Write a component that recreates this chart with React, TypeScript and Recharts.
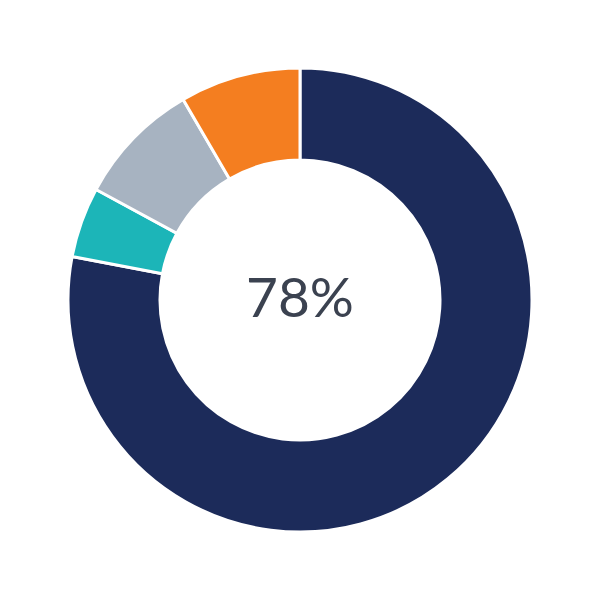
import React from "react";
import { PieChart, Pie, Cell } from "recharts";

const categories = ["Navy", "Teal", "Gray", "Orange"];
const values = [78, 4.9, 8.7, 8.4];
const colors = ["#1c2b5a", "#1cb5b8", "#a7b3c1", "#f47e20"];
const centerLabel = "78%";

const data = categories.map((name, i) => ({ name, value: values[i] }));

export default function App() {
  return (
    <div style={{ position: "absolute", left: 0, top: 0, width: 600, height: 600, background: "#fff" }}>
      <PieChart width={600} height={600} margin={{ top: 0, right: 0, bottom: 0, left: 0 }}>
        <Pie
          data={data}
          dataKey="value"
          nameKey="name"
          cx={300}
          cy={300}
          innerRadius={140}
          outerRadius={232}
          startAngle={90}
          endAngle={-270}
          stroke="#ffffff"
          strokeWidth={3}
          isAnimationActive={false}
        >
          {data.map((d, i) => (
            <Cell key={d.name} fill={colors[i]} />
          ))}
        </Pie>
        <text
          x={300}
          y={296}
          textAnchor="middle"
          dominantBaseline="central"
          fontFamily="Lato, 'Open Sans', sans-serif"
          fontSize={55}
          fill="#3b4250"
        >
          {centerLabel}
        </text>
      </PieChart>
    </div>
  );
}
